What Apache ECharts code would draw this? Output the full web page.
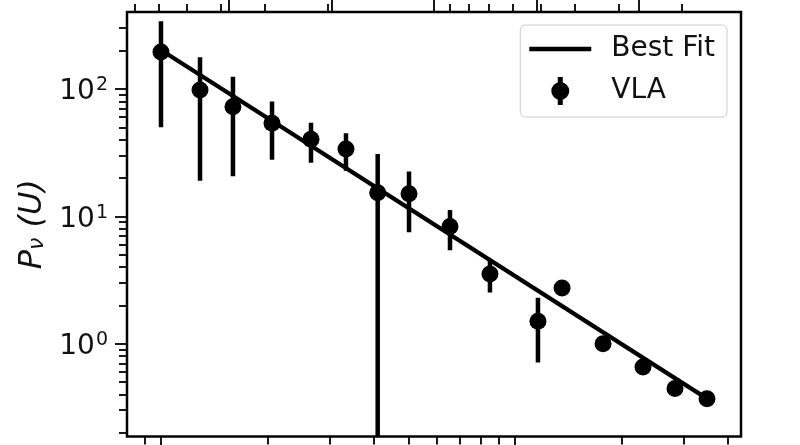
<!DOCTYPE html>
<html>
<head>
<meta charset="utf-8">
<script src="https://cdn.jsdelivr.net/npm/echarts@6/dist/echarts.min.js"></script>
<style>html,body{margin:0;padding:0;background:#fff}#c{width:800px;height:445px}</style>
</head>
<body>
<div id="c"></div>
<script>
// ---- data ----
const xValues = [1.000, 1.289, 1.597, 2.059, 2.653, 3.331, 4.094, 5.019, 6.552, 8.497, 11.61, 13.58, 17.73, 22.99, 28.31, 34.86];
const yValues = [195, 98, 72.6, 53.8, 40.3, 33.8, 15.3, 15.0, 8.3, 3.52, 1.50, 2.74, 1.00, 0.656, 0.444, 0.370];
const yErrors = [145, 79, 52, 26, 14, 11, 15.5, 7.5, 2.9, 1.0, 0.79, 0.3, 0.1, 0.06, 0.04, 0.03];
const fitX = [1.0, 34.86];
const fitY = [202, 0.37];
const xRange = [0.8017, 43.49];
const yRange = [0.1866, 401.8];
const topRange = [0.1358, 7.364];           // reciprocal secondary axis
const xMajorTicks = [1, 10];
const xMinorTicks = [0.9, 2, 3, 4, 5, 6, 7, 8, 9, 20, 30, 40];
const topMinorTicks = [0.2, 0.3, 0.4, 0.5, 0.6, 0.7, 0.8, 0.9, 2, 3, 4, 5, 6, 7];
const topMajorTicks = [0.264, 0.512, 1, 1.95, 3.79];
const yMajorTicks = [1, 10, 100];
const yMinorTicks = [0.2, 0.3, 0.4, 0.5, 0.6, 0.7, 0.8, 0.9, 2, 3, 4, 5, 6, 7, 8, 9, 20, 30, 40, 50, 60, 70, 80, 90, 200, 300];
const legendNames = ['Best Fit', 'VLA'];

const L = Math.log10;
const FONT = 'DejaVu Sans';

function tickAxis(position, range, ticks, len, extra) {
  return Object.assign({
    type: 'value', position: position,
    min: L(range[0]), max: L(range[1]),
    axisLine: { show: false, onZero: false },
    splitLine: { show: false },
    axisLabel: { show: false },
    axisTick: { show: true, inside: false, length: len, customValues: ticks.map(L),
      lineStyle: { color: '#000', width: 1.8 } }
  }, extra || {});
}

const chart = echarts.init(document.getElementById('c'), null, { renderer: 'canvas' });

chart.setOption({
  animation: false,
  backgroundColor: '#fff',
  color: ['#000'],
  grid: { left: 127, right: 59, top: 12, bottom: 8.5, show: true,
          borderColor: '#000', borderWidth: 2.5, backgroundColor: 'transparent' },
  legend: {
    data: [
      { name: legendNames[0], icon: 'path://M0,0 L62,0 L62,4.5 L0,4.5 Z' },
      { name: legendNames[1], icon: 'path://M6.5,0 L11.5,0 L11.5,28 L6.5,28 Z M0,14 A9,9 0 1,1 18,14 A9,9 0 1,1 0,14 Z' }
    ],
    orient: 'vertical', right: 73, top: 25,
    itemWidth: 62, itemHeight: 28, itemGap: 14,
    padding: [10, 12, 12, 9],
    backgroundColor: '#fff', borderColor: '#cccccc', borderWidth: 1, borderRadius: 5,
    itemStyle: { color: '#000', opacity: 1 },
    textStyle: { fontFamily: FONT, fontSize: 28, color: '#111', padding: [0, 0, 0, 15] },
    selectedMode: false
  },
  xAxis: [
    { type: 'log', min: xRange[0], max: xRange[1], show: false, axisLine: { onZero: false } },
    tickAxis('bottom', xRange, xMajorTicks, 12),
    tickAxis('bottom', xRange, xMinorTicks, 8),
    tickAxis('top', topRange, topMinorTicks, 8, { inverse: true }),
    tickAxis('top', topRange, topMajorTicks, 13, { inverse: true })
  ],
  yAxis: [
    { type: 'log', min: yRange[0], max: yRange[1], show: false, axisLine: { onZero: false } },
    tickAxis('left', yRange, yMajorTicks, 12, {
      axisLabel: {
        show: true, customValues: yMajorTicks.map(L), margin: 19,
        formatter: function (v) { return '{b|10}{s|' + Math.round(v) + '}'; },
        rich: {
          b: { fontFamily: FONT, fontSize: 28, color: '#111', lineHeight: 34, verticalAlign: 'bottom' },
          s: { fontFamily: FONT, fontSize: 19, color: '#111', lineHeight: 19, verticalAlign: 'top', padding: [4, 0, 0, 1] }
        }
      },
      name: '{i|P}{sub|ν}{i| (U)}',
      nameLocation: 'middle', nameRotate: 90, nameGap: 78,
      nameTextStyle: {
        rich: {
          i: { fontFamily: FONT, fontStyle: 'italic', fontSize: 32, color: '#111', lineHeight: 38, verticalAlign: 'bottom' },
          sub: { fontFamily: FONT, fontStyle: 'italic', fontSize: 22, color: '#111', lineHeight: 26, verticalAlign: 'bottom' }
        }
      }
    }),
    tickAxis('left', yRange, yMinorTicks, 8)
  ],
  series: [
    {
      name: legendNames[0], type: 'line', xAxisIndex: 0, yAxisIndex: 0,
      data: fitX.map((x, i) => [x, fitY[i]]),
      symbol: 'none', lineStyle: { color: '#000', width: 4.2 }, z: 3, silent: true
    },
    {
      name: 'VLA errors', type: 'custom', xAxisIndex: 0, yAxisIndex: 0, clip: true, z: 2, silent: true,
      data: xValues.map((x, i) => [x, Math.max(yValues[i] - yErrors[i], yRange[0]), yValues[i] + yErrors[i]]),
      renderItem: function (params, api) {
        const p1 = api.coord([api.value(0), api.value(1)]);
        const p2 = api.coord([api.value(0), api.value(2)]);
        return { type: 'line', shape: { x1: p1[0], y1: p1[1], x2: p2[0], y2: p2[1] },
                 style: { stroke: '#000', lineWidth: 4.5 } };
      }
    },
    {
      name: legendNames[1], type: 'scatter', xAxisIndex: 0, yAxisIndex: 0,
      data: xValues.map((x, i) => [x, yValues[i]]),
      symbol: 'circle', symbolSize: 17, itemStyle: { color: '#000', opacity: 1 }, z: 4, silent: true
    }
  ]
});
</script>
</body>
</html>
